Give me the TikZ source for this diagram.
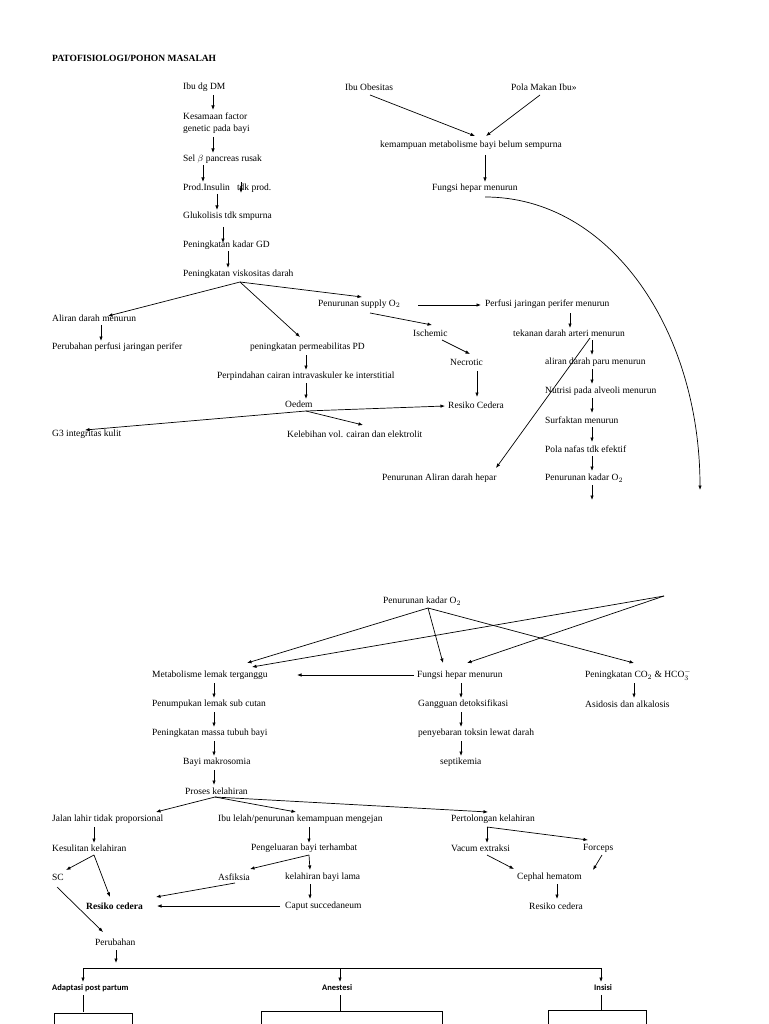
\documentclass[tikz,border=0pt]{standalone}
\usepackage{fontspec}
\setmainfont{Liberation Serif}
\newfontfamily\sansc{Carlito}
\usetikzlibrary{arrows.meta}
\begin{document}
\begin{tikzpicture}[x=1pt,y=-1pt,
  t/.style={anchor=west,inner sep=0pt,font=\fontsize{9.5}{11.5}\selectfont},
  a/.style={-{Latex[length=4.5pt,width=3.5pt]},line width=0.7pt},
  l/.style={line width=0.7pt}]
\useasboundingbox (0,0) rectangle (768,1024);
\node[t,font=\fontsize{9.5}{11}\selectfont\bfseries] (title) at (52,58) {PATOFISIOLOGI/POHON MASALAH};
\node[t] (ibu) at (183,87) {Ibu dg DM};
\node[t,align=left] (kes) at (183,123) {Kesamaan factor\\genetic pada bayi};
\node[t] (sel) at (183,159) {Sel $\beta$ pancreas rusak};
\node[t] (prod) at (183,188) {Prod.Insulin \ \ tdk prod.};
\node[t] (glu) at (183,216) {Glukolisis tdk smpurna};
\node[t] (gd) at (183,245) {Peningkatan kadar GD};
\node[t] (visk) at (183,274) {Peningkatan viskositas darah};
\draw[a] (213,95) -- (213,110);
\draw[a] (213,137) -- (213,153);
\draw[a] (203,165) -- (203,182);
\coordinate (pa1) at (241,182); \coordinate (pa2) at (241,193);
\draw[a] (pa1) -- (pa2);
\draw[a] (217,194) -- (217,210);
\draw[a] (223,227) -- (223,243);
\draw[a] (228,251) -- (228,268);
\node[t] (obes) at (345,87) {Ibu Obesitas};
\node[t] (pola) at (511,87) {Pola Makan Ibu>>};
\node[t] (kem) at (380,145) {kemampuan metabolisme bayi belum sempurna};
\node[t] (fh1) at (432,188) {Fungsi hepar menurun};
\draw[a] (370,95) -- (475,136);
\draw[a] (540,95) -- (486,136);
\draw[a] (485,155) -- (485,182);
\coordinate (curveEnd) at (700,490);
\draw[a] (485,197) .. controls (610,197) and (700,330) .. (curveEnd);
% fan from viskositas
\coordinate (vf) at (240,282);
\node[t] (alir) at (52,318) {Aliran darah menurun};
\node[t] (perub) at (52,347) {Perubahan perfusi jaringan perifer};
\node[t] (perm) at (250,347) {peningkatan permeabilitas PD};
\node[t] (perp) at (217,376) {Perpindahan cairan intravaskuler ke interstitial};
\node[t] (oed) at (285,404) {Oedem};
\node[t] (g3) at (52,434) {G3 integritas kulit};
\node[t] (kel) at (287,434) {Kelebihan vol. cairan dan elektrolit};
\node[t] (sup) at (318,304) {Penurunan supply O$_2$};
\node[t] (perf) at (485,304) {Perfusi jaringan perifer menurun};
\node[t] (isch) at (413,333) {Ischemic};
\node[t] (necr) at (450,362) {Necrotic};
\node[t] (res1) at (448,405) {Resiko Cedera};
\node[t] (tek) at (513,333) {tekanan darah arteri menurun};
\node[t] (hep) at (382,478) {Penurunan Aliran darah hepar};
\node[t] (par) at (545,362) {aliran darah paru menurun};
\node[t] (nut) at (545,391) {Nutrisi pada alveoli menurun};
\node[t] (surf) at (545,420) {Surfaktan menurun};
\node[t] (pnf) at (545,449) {Pola nafas tdk efektif};
\node[t] (kad) at (545,478) {Penurunan kadar O$_2$};
\draw[a] (vf) -- (108,316);
\draw[a] (vf) -- (362,297);
\draw[a] (vf) -- (300,337);
\draw[a] (101,325) -- (101,341);
\draw[a] (306,355) -- (306,370);
\draw[a] (306,383) -- (306,399);
\coordinate (of) at (306,411);
\draw[a] (of) -- (85,430);
\draw[a] (of) -- (445,406);
\draw[a] (of) -- (363,425);
\draw[a] (418,305) -- (481,305);
\draw[a] (370,313) -- (432,325);
\draw[a] (442,340) -- (470,354);
\draw[a] (477,371) -- (477,397);
\draw[a] (570,313) -- (570,328);
\draw[a] (590,338) -- (496,468);
\draw[a] (592,340) -- (592,355);
\draw[a] (592,369) -- (592,384);
\draw[a] (592,398) -- (592,413);
\draw[a] (592,427) -- (592,442);
\draw[a] (592,456) -- (592,471);
\draw[a] (592,485) -- (592,500);
% second part
\node[t] (kad2) at (383,601) {Penurunan kadar O$_2$};
\node[t] (meta) at (152,675) {Metabolisme lemak terganggu};
\node[t] (fh2) at (417,675) {Fungsi hepar menurun};
\node[t] (co2) at (585,675) {Peningkatan CO$_2$ \& HCO$_3^{-}$};
\coordinate (kf) at (428,608);
\coordinate (rf) at (664,596);
\draw[a] (kf) -- (247,663);
\draw[a] (kf) -- (443,663);
\draw[a] (kf) -- (634,663);
\draw[a] (rf) -- (252,667);
\draw[a] (rf) -- (467,663);
\draw[a] (414,675) -- (297,675);
\node[t] (pen) at (152,704) {Penumpukan lemak sub cutan};
\node[t] (mas) at (152,733) {Peningkatan massa tubuh bayi};
\node[t] (mak) at (183,762) {Bayi makrosomia};
\node[t] (pro) at (185,791) {Proses kelahiran};
\draw[a] (214,683) -- (214,698);
\draw[a] (214,712) -- (214,727);
\draw[a] (214,741) -- (214,756);
\draw[a] (214,770) -- (214,785);
\node[t] (ggn) at (418,704) {Gangguan detoksifikasi};
\node[t] (pny) at (418,733) {penyebaran toksin lewat darah};
\node[t] (sep) at (440,762) {septikemia};
\draw[a] (461,683) -- (461,698);
\draw[a] (461,712) -- (461,727);
\draw[a] (461,741) -- (461,756);
\node[t] (asi) at (585,704) {Asidosis dan alkalosis};
\draw[a] (634,683) -- (634,698);
\coordinate (pf) at (215,797);
\node[t] (jal) at (52,819) {Jalan lahir tidak proporsional};
\node[t] (lel) at (218,819) {Ibu lelah/penurunan kemampuan mengejan};
\node[t] (per) at (451,819) {Pertolongan kelahiran};
\draw[a] (pf) -- (156,812);
\draw[a] (pf) -- (296,812);
\draw[a] (pf) -- (488,812);
\node[t] (ksl) at (52,848) {Kesulitan kelahiran};
\draw[a] (94,827) -- (94,843);
\node[t] (sc) at (52,877) {SC};
\node[t,font=\fontsize{9.5}{11.5}\selectfont\bfseries] (res2) at (86,906) {Resiko cedera};
\draw[a] (94,855) -- (66,870);
\draw[a] (94,855) -- (110,897);
\node[t] (pgl) at (251,848) {Pengeluaran bayi terhambat};
\draw[a] (309,827) -- (309,843);
\node[t] (asf) at (218,877) {Asfiksia};
\node[t] (lam) at (285,877) {kelahiran bayi lama};
\draw[a] (309,855) -- (250,869);
\draw[a] (309,855) -- (310,870);
\draw[a] (235,883) -- (156,897);
\draw[a] (310,884) -- (310,899);
\node[t] (cap) at (285,906) {Caput succedaneum};
\draw[a] (280,906) -- (157,906);
\node[t] (vac) at (451,848) {Vacum extraksi};
\node[t] (for) at (583,848) {Forceps};
\draw[a] (487,827) -- (487,843);
\draw[a] (487,827) -- (588,840);
\node[t] (cep) at (517,877) {Cephal hematom};
\draw[a] (487,855) -- (514,869);
\draw[a] (602,855) -- (593,870);
\draw[a] (557,884) -- (557,899);
\node[t] (res3) at (529,906) {Resiko cedera};
\draw[a] (57,887) -- (103,932);
\node[t] (peru) at (95,942) {Perubahan};
\draw[a] (116,950) -- (116,963);
\coordinate (h1) at (83,968); \coordinate (h2) at (601,968);
\draw[l] (h1) -- (h2);
\node[t,font=\sansc\bfseries\fontsize{8.5}{10}\selectfont] (ada) at (52,988) {Adaptasi post partum};
\node[t,font=\sansc\bfseries\fontsize{8.5}{10}\selectfont] (ane) at (322,988) {Anestesi};
\node[t,font=\sansc\bfseries\fontsize{8.5}{10}\selectfont] (ins) at (594,988) {Insisi};
\draw[a] (83,968) -- (83,982);
\draw[a] (340,968) -- (340,982);
\draw[a] (601,968) -- (601,982);
\draw[l] (83,995) -- (83,1012);
\draw[l] (340,995) -- (340,1011);
\draw[l] (601,995) -- (601,1010);
\draw[l] (54,1030) -- (54,1013) -- (132,1013) -- (132,1030);
\draw[l] (261,1030) -- (261,1011) -- (442,1011) -- (442,1030);
\draw[l] (548,1030) -- (548,1010) -- (646,1010) -- (646,1030);
\end{tikzpicture}
\end{document}
